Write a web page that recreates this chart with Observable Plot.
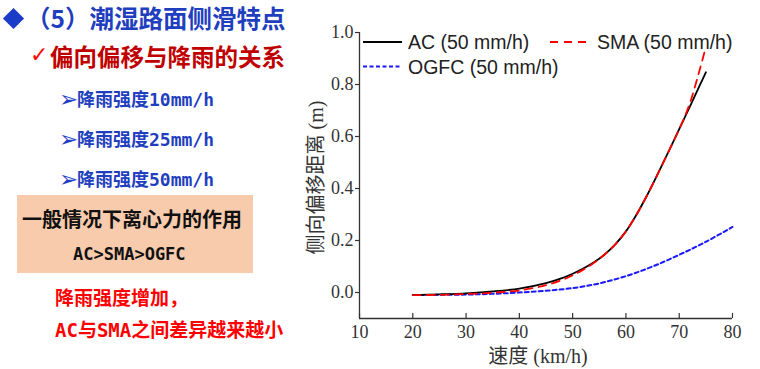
<!DOCTYPE html>
<html>
<head>
<meta charset="utf-8">
<script src="https://cdn.jsdelivr.net/npm/d3@7"></script>
<script src="https://cdn.jsdelivr.net/npm/@observablehq/plot@0.6"></script>
<style>
  html, body { margin: 0; padding: 0; background: #fff; }
  #page { position: relative; width: 760px; height: 369px; overflow: hidden; background: #fff; }
  .t { position: absolute; white-space: nowrap; line-height: 1; font-family: "Noto Sans CJK SC", sans-serif; font-weight: bold; }
  .mono { font-family: "DejaVu Sans Mono", "Noto Sans CJK SC", monospace; }
  .arrow { font-family: "DejaVu Sans", sans-serif; font-size: 23px; color: #1f3fbf; left: 59px; }
  #diamond { position: absolute; left: 6px; top: 11px; width: 15px; height: 15px; background: #1a3cc8; transform: rotate(45deg); }
  #box { position: absolute; left: 17px; top: 195px; width: 236px; height: 78px; background: #f8cbad; }
  #chart { position: absolute; left: 300px; top: 0; }
  #legend { position: absolute; left: 0; top: 0; }
</style>
</head>
<body>
<div id="page">
  <div id="diamond"></div>
  <div class="t" style="left:26px; top:6px; font-size:24.5px; color:#1f3fbf;">（5）潮湿路面侧滑特点</div>
  <div class="t" style="left:30px; top:44px; font-size:22px; color:#ff0000; font-family:'DejaVu Sans', sans-serif;">✓</div>
  <div class="t" style="left:50px; top:45px; font-size:23.5px; color:#c00000;">偏向偏移与降雨的关系</div>

  <div class="t arrow" style="top:88px;">➢</div>
  <div class="t mono" style="left:77px; top:91px; font-size:18px; color:#1f3fbf;">降雨强度10mm/h</div>
  <div class="t arrow" style="top:128px;">➢</div>
  <div class="t mono" style="left:77px; top:131px; font-size:18px; color:#1f3fbf;">降雨强度25mm/h</div>
  <div class="t arrow" style="top:168px;">➢</div>
  <div class="t mono" style="left:77px; top:171px; font-size:18px; color:#1f3fbf;">降雨强度50mm/h</div>

  <div id="box"></div>
  <div class="t" style="left:22px; top:209px; font-size:20px; color:#111;">一般情况下离心力的作用</div>
  <div class="t mono" style="left:73px; top:246px; font-size:17px; color:#111;">AC&gt;SMA&gt;OGFC</div>

  <div class="t mono" style="left:55px; top:289px; font-size:19px; color:#ff0000;">降雨强度增加，</div>
  <div class="t mono" style="left:55px; top:321px; font-size:19px; color:#ff0000;">AC与SMA之间差异越来越小</div>

  <div id="chart"></div>

  <svg id="legend" width="760" height="90" style="font-family:'Liberation Sans', Arial, sans-serif; font-size:19.5px; fill:#222;">
    <line x1="363" x2="402" y1="42" y2="42" stroke="#000" stroke-width="1.8"/>
    <text x="408" y="49.3">AC (50 mm/h)</text>
    <line x1="550" x2="592" y1="42" y2="42" stroke="#ff0000" stroke-width="1.8" stroke-dasharray="8 6"/>
    <text x="597" y="49.3">SMA (50 mm/h)</text>
    <line x1="363" x2="402" y1="66.5" y2="66.5" stroke="#1a1aff" stroke-width="1.8" stroke-dasharray="4 2.5"/>
    <text x="408" y="73.5">OGFC (50 mm/h)</text>
  </svg>
</div>

<script>
// ---- data ----
const xDomain = [10, 80];
const yDomain = [-0.1, 1.0];
const xTicks = [10, 20, 30, 40, 50, 60, 70, 80];
const yTicks = [0, 0.2, 0.4, 0.6, 0.8, 1.0];

const acSpeed  = [20, 25, 30, 35, 40, 45, 48, 50, 52, 54, 56, 58, 60, 62, 64, 66, 68, 70, 72, 74, 75];
const acOffset = [-0.010, -0.007, -0.003, 0.004, 0.015, 0.036, 0.055, 0.072, 0.092, 0.116, 0.146, 0.185, 0.235, 0.300, 0.375, 0.457, 0.542, 0.628, 0.715, 0.803, 0.847];

const smaSpeed  = [20, 25, 30, 35, 40, 45, 48, 50, 52, 54, 56, 58, 60, 62, 64, 66, 68, 70, 71, 72, 73, 74, 75];
const smaOffset = [-0.010, -0.009, -0.006, -0.001, 0.008, 0.028, 0.048, 0.066, 0.088, 0.114, 0.146, 0.185, 0.235, 0.300, 0.375, 0.457, 0.542, 0.628, 0.675, 0.728, 0.795, 0.868, 0.944];

const ogfcSpeed  = [20, 25, 30, 35, 40, 45, 50, 55, 60, 65, 70, 75, 80];
const ogfcOffset = [-0.010, -0.009, -0.008, -0.005, 0.000, 0.007, 0.017, 0.035, 0.063, 0.100, 0.145, 0.195, 0.252];

const xLabel = "速度 (km/h)";
const yLabel = "侧向偏移距离 (m)";

const toRows = (xs, ys) => xs.map((x, i) => ({x, y: ys[i]}));
const ac = toRows(acSpeed, acOffset);
const sma = toRows(smaSpeed, smaOffset);
const ogfc = toRows(ogfcSpeed, ogfcOffset);

const axisColor = "#333";

const chart = Plot.plot({
  width: 460,
  height: 369,
  marginLeft: 59,
  marginRight: 28,
  marginTop: 32,
  marginBottom: 51,
  style: {fontFamily: '"Liberation Serif", "Noto Sans CJK SC", serif', fontSize: "18px", color: axisColor, background: "transparent", overflow: "visible"},
  x: {domain: xDomain},
  y: {domain: yDomain},
  marks: [
    Plot.ruleX([xDomain[0]], {stroke: axisColor, strokeWidth: 1.3}),
    Plot.ruleY([yDomain[0]], {stroke: axisColor, strokeWidth: 1.3}),
    Plot.axisX({ticks: xTicks, tickSize: -5, tickPadding: 12, label: null, stroke: axisColor, strokeWidth: 1.2}),
    Plot.axisY({ticks: yTicks, tickSize: 4, tickPadding: 2, tickFormat: d3.format(".1f"), label: null, stroke: axisColor, strokeWidth: 1.2}),
    Plot.text([xLabel], {frameAnchor: "bottom", lineAnchor: "bottom", dy: 44, dx: -8, fontSize: 20, fill: axisColor}),
    Plot.text([yLabel], {frameAnchor: "left", textAnchor: "middle", lineAnchor: "middle", rotate: -90, dx: -42.5, dy: 2, fontSize: 20, fill: axisColor}),
    Plot.line(ogfc, {x: "x", y: "y", stroke: "#1a1aff", strokeWidth: 2, strokeDasharray: "4 3", curve: "catmull-rom"}),
    Plot.line(ac, {x: "x", y: "y", stroke: "#000", strokeWidth: 1.8, curve: "catmull-rom"}),
    Plot.line(sma, {x: "x", y: "y", stroke: "#ff0000", strokeWidth: 1.8, strokeDasharray: "8 6", curve: "catmull-rom"})
  ]
});
document.getElementById("chart").appendChild(chart);
</script>
</body>
</html>
